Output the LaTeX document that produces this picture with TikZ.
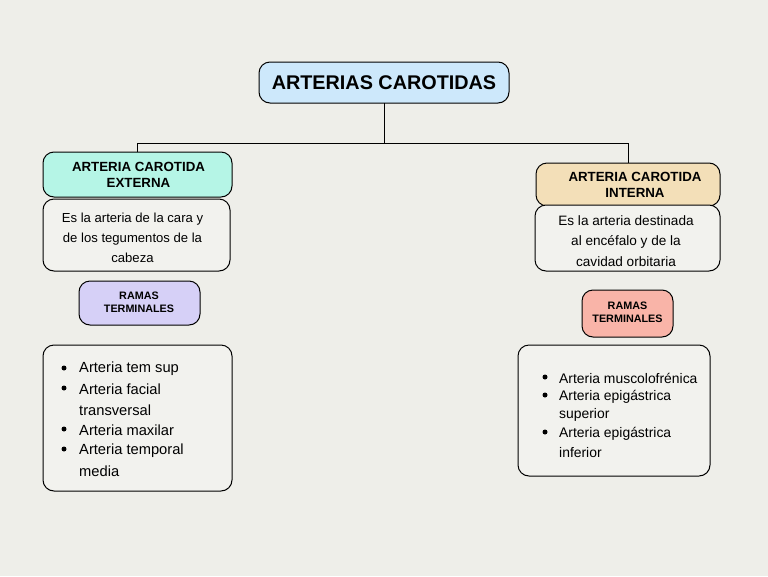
\documentclass[tikz,border=0pt]{standalone}
\usepackage{fontspec}
\setmainfont{Liberation Sans}
\definecolor{bg}{HTML}{EEEEE9}
\definecolor{boxbg}{HTML}{F2F2EE}
\definecolor{titlec}{HTML}{CDE8FB}
\definecolor{mint}{HTML}{B5F5E6}
\definecolor{beige}{HTML}{F3DFB8}
\definecolor{lav}{HTML}{D6D0F7}
\definecolor{salmon}{HTML}{F9B4A8}
\begin{document}
\begin{tikzpicture}[x=1pt,y=-1pt,
  box/.style={draw=black,line width=1pt,rounded corners=11pt},
  txt/.style={align=center},
  itm/.style={font=\fontsize{14.7}{15}\selectfont,anchor=west,inner sep=0pt},
  itmr/.style={font=\fontsize{13.9}{15}\selectfont,anchor=west,inner sep=0pt},
  bul/.style={circle,fill=black,inner sep=0pt,minimum size=5pt},
  conn/.style={draw=black,line width=1pt}]
\fill[bg] (0,0) rectangle (768,576);
\useasboundingbox (0,0) rectangle (768,576);
% boxes
\draw[box,fill=titlec] (259,62) rectangle (509,103);
\node[font=\fontsize{19.8}{22}\selectfont\bfseries] (title) at (384,82.5) {ARTERIAS CAROTIDAS};
\coordinate (tb) at (384,103);
\draw[box,fill=mint] (43,152) rectangle (232,197);
\node[txt,font=\fontsize{13.3}{16}\selectfont\bfseries] (lh) at (138.5,174.5) {ARTERIA CAROTIDA\\EXTERNA};
\coordinate (lht) at (137,152);
\draw[box,fill=beige] (536,163) rectangle (720,206);
\node[txt,font=\fontsize{13.3}{16}\selectfont\bfseries] (rh) at (635,185) {ARTERIA CAROTIDA\\INTERNA};
\coordinate (rht) at (628,163);
\draw[conn] (tb) -- (384,143) -| (lht);
\draw[conn] (384,143) -| (rht);
\draw[box,fill=boxbg] (43,199) rectangle (230,271);
\node[txt,font=\fontsize{13.1}{20}\selectfont] (ld) at (132.5,238) {Es la arteria de la cara y\\de los tegumentos de la\\cabeza};
\draw[box,fill=boxbg] (535,205) rectangle (720,271);
\node[txt,font=\fontsize{13.6}{20.5}\selectfont] (rd) at (626,241) {Es la arteria destinada\\al encéfalo y de la\\cavidad orbitaria};
\draw[box,fill=lav] (79,281) rectangle (200,325);
\node[txt,font=\fontsize{10.8}{13}\selectfont\bfseries] (lr) at (139,302) {RAMAS\\TERMINALES};
\draw[box,fill=salmon] (582,290) rectangle (673,337);
\node[txt,font=\fontsize{10.8}{13}\selectfont\bfseries] (rr) at (627.5,312) {RAMAS\\TERMINALES};
\draw[box,fill=boxbg] (43,345) rectangle (232,491);
\draw[box,fill=boxbg] (518,345) rectangle (710,476);
% left list
\node[bul] (lb1) at (64,368) {};
\node[itm] (l1) at (79,369) {Arteria tem sup};
\node[bul] (lb2) at (64,388) {};
\node[itm] (l2) at (79,389.5) {Arteria facial};
\node[itm] (l3) at (79,410) {transversal};
\node[bul] (lb3) at (64,429) {};
\node[itm] (l4) at (79,430.5) {Arteria maxilar};
\node[bul] (lb4) at (64,449) {};
\node[itm] (l5) at (79,450.5) {Arteria temporal};
\node[itm] (l6) at (79,471) {media};
% right list
\node[bul] (rb1) at (545,377) {};
\node[itmr] (r1) at (559,378) {Arteria muscolofrénica};
\node[bul] (rb2) at (545,395) {};
\node[itmr] (r2) at (559,396.5) {Arteria epigástrica};
\node[itmr] (r3) at (559,415) {superior};
\node[bul] (rb3) at (545,432) {};
\node[itmr] (r4) at (559,433.5) {Arteria epigástrica};
\node[itmr] (r5) at (559,452.5) {inferior};
\end{tikzpicture}
\end{document}
